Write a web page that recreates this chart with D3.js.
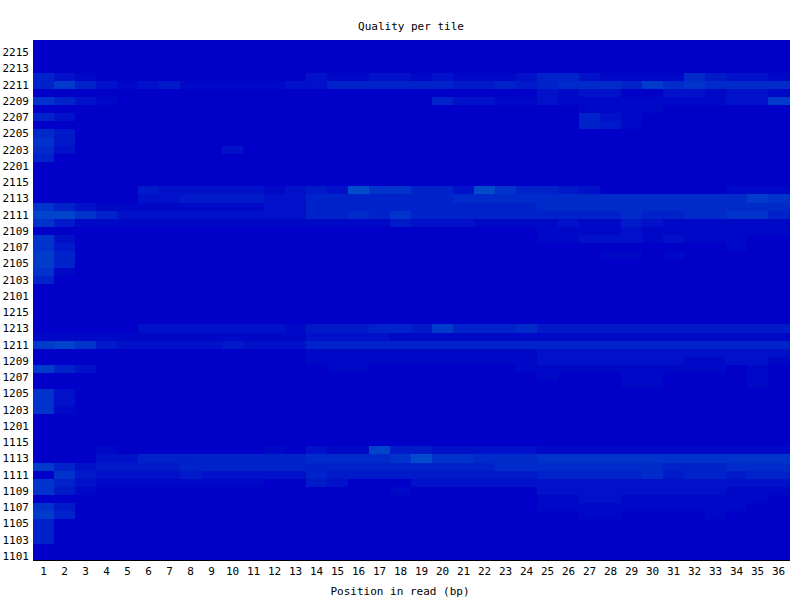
<!DOCTYPE html>
<html>
<head>
<meta charset="utf-8">
<script src="https://d3js.org/d3.v7.min.js"></script>
<style>
  body { margin: 0; background: #fff; }
  text { font-family: "DejaVu Sans Mono", monospace; font-size: 11px; fill: #000; }
</style>
</head>
<body>
<script>
// read positions (x categories)
var positions = [1,2,3,4,5,6,7,8,9,10,11,12,13,14,15,16,17,18,19,20,
                 21,22,23,24,25,26,27,28,29,30,31,32,33,34,35,36];

// tiles, top to bottom
var tiles22 = ["2216","2215","2214","2213","2212","2211","2210","2209",
               "2208","2207","2206","2205","2204","2203","2202","2201"];
var tiles21 = ["2116","2115","2114","2113","2112","2111","2110","2109",
               "2108","2107","2106","2105","2104","2103","2102","2101"];
var tiles12 = ["1216","1215","1214","1213","1212","1211","1210","1209",
               "1208","1207","1206","1205","1204","1203","1202","1201"];
var tiles11 = ["1116","1115","1114","1113","1112","1111","1110","1109",
               "1108","1107","1106","1105","1104","1103","1102","1101"];

// deviation level per position (0 = none, 9 = most), one string per tile
var dev22 = [
  "000000 000000 000000 000000 000000 000000",
  "000000 000000 000000 000000 000000 000000",
  "000000 000000 000000 000000 000000 000000",
  "000000 000000 000000 000000 000000 000000",
  "421000 000000 021122 121112 442111 153221",
  "474212 311111 224444 443343 455547 565555",
  "000000 000000 000000 000000 212200 221221",
  "642100 000000 000000 042211 211111 111227",
  "000000 000000 000000 000000 001111 000000",
  "420000 000000 000000 000000 004210 000000",
  "000000 000000 000000 000000 004310 000000",
  "530000 000000 000000 000000 000000 000000",
  "630000 000000 000000 000000 000000 000000",
  "520000 000200 000000 000000 000000 000000",
  "400000 000000 000000 000000 000000 000000",
  "000000 000000 000000 000000 000000 000000"
];
var dev21 = [
  "000000 000000 000000 000000 000000 000000",
  "000000 000000 000000 000000 000000 000000",
  "000003 222221 232966 442964 432000 000111",
  "000002 233332 244444 445555 555555 555576",
  "642111 111112 244444 444444 555555 555555",
  "886422 222222 244546 444444 444454 455664",
  "631111 111111 111113 222111 121132 111111",
  "000000 000000 000000 000000 111121 111111",
  "620000 000000 000000 000000 112221 211100",
  "630000 000000 000000 000000 000000 000100",
  "740000 000000 000000 000000 000110 100000",
  "740000 000000 000000 000000 000000 000000",
  "610000 000000 000000 000000 000000 000000",
  "400000 000000 000000 000000 000000 000000",
  "000000 000000 000000 000000 000000 000000",
  "000000 000000 000000 000000 000000 000000"
];
var dev12 = [
  "000000 000000 000000 000000 000000 000000",
  "000000 000000 000000 000000 000000 000000",
  "000000 000000 000000 000000 000000 000000",
  "000002 222222 133344 374445 333333 333333",
  "111111 111111 122221 111111 111111 111111",
  "786322 222322 244444 444444 444444 444444",
  "000000 000000 011111 111111 222222 222222",
  "000000 000000 011111 111111 222222 211221",
  "742000 000000 001100 000001 111111 111010",
  "000000 000000 000000 000000 100011 000010",
  "000000 000000 000000 000000 000011 000010",
  "620000 000000 000000 000000 000000 000000",
  "620000 000000 000000 000000 000000 000000",
  "610000 000000 000000 000000 000000 000000",
  "000000 000000 000000 000000 000000 000000",
  "000000 000000 000000 000000 000000 000000"
];
var dev11 = [
  "000000 000000 000000 000000 000000 000000",
  "000000 000000 000000 000000 000000 000000",
  "000100 000001 021183 322222 111111 111111",
  "000224 444444 455556 966555 666666 666666",
  "742333 344444 444444 444455 555555 444555",
  "063222 232222 243333 333333 444445 344344",
  "642111 111110 032000 222222 222222 222222",
  "631000 000000 000001 000000 222222 222111",
  "000000 000000 000000 000000 112211 111110",
  "630000 000000 000000 000000 111111 111100",
  "740000 000000 000000 000000 001100 001000",
  "400000 000000 000000 000000 000000 000000",
  "400000 000000 000000 000000 000000 000000",
  "400000 000000 000000 000000 000000 000000",
  "000000 000000 000000 000000 000000 000000",
  "000000 000000 000000 000000 000000 000000"
];

var tiles = tiles22.concat(tiles21, tiles12, tiles11);
var devs = dev22.concat(dev21, dev12, dev11);

var cells = [];
tiles.forEach(function (t, i) {
  var s = devs[i].replace(/ /g, "");
  positions.forEach(function (p, j) {
    cells.push({tile: t, pos: p, v: +s[j]});
  });
});

// careful: "top" is taken by window.top
var W = 800, H = 600;
var plotL = 33, plotR = 789, plotT = 40, plotB = 560;

var svg = d3.select("body").append("svg")
  .attr("width", W)
  .attr("height", H);

var x = d3.scaleBand().domain(positions).range([plotL, plotR]);
var y = d3.scaleBand().domain(tiles).range([plotT, plotB]);
var color = d3.scaleLinear()
  .domain([0, 9])
  .range(["rgb(0,0,200)", "rgb(0,76,204)"]);

svg.append("g")
  .attr("shape-rendering", "crispEdges")
  .selectAll("rect")
  .data(cells)
  .enter().append("rect")
    .attr("x", d => x(d.pos))
    .attr("y", d => y(d.tile))
    .attr("width", x.bandwidth() + 0.5)
    .attr("height", y.bandwidth() + 0.5)
    .attr("fill", d => color(d.v));

// x axis line
svg.append("line")
  .attr("x1", plotL).attr("x2", plotR)
  .attr("y1", plotB + 0.5).attr("y2", plotB + 0.5)
  .attr("stroke", "#000")
  .attr("shape-rendering", "crispEdges");

// only odd tiles get a label
svg.append("g").selectAll("text")
  .data(tiles.filter(t => +t % 2 === 1))
  .enter().append("text")
    .attr("x", plotL - 4)
    .attr("y", t => y(t) + y.bandwidth() / 2 + 4)
    .attr("text-anchor", "end")
    .text(t => t);

svg.append("g").selectAll("text")
  .data(positions)
  .enter().append("text")
    .attr("x", p => x(p) + x.bandwidth() / 2)
    .attr("y", 575)
    .attr("text-anchor", "middle")
    .text(p => p);

svg.append("text")
  .attr("x", (plotL + plotR) / 2)
  .attr("y", 30)
  .attr("text-anchor", "middle")
  .text("Quality per tile");

svg.append("text")
  .attr("x", W / 2)
  .attr("y", 595)
  .attr("text-anchor", "middle")
  .text("Position in read (bp)");
</script>
</body>
</html>
